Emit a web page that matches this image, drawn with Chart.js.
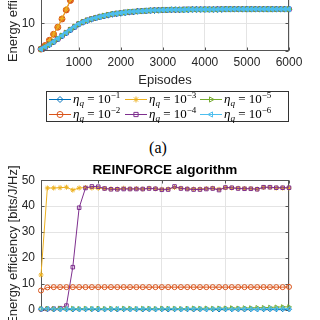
<!DOCTYPE html>
<html>
<head>
<meta charset="utf-8">
<script src="https://cdn.jsdelivr.net/npm/chart.js@4.4.1/dist/chart.umd.min.js"></script>
<style>
  html, body { margin: 0; padding: 0; background: #fff; }
  body { width: 320px; height: 320px; overflow: hidden; position: relative; font-family: "Liberation Sans", Arial, sans-serif; }
  #chartA { position: absolute; left: 0; top: -100px; }
  #chartB { position: absolute; left: 0; top: 150px; }
  #legend {
    position: absolute; left: 46px; top: 91px; width: 239px; height: 29px;
    border: 1px solid #333; background: #fff; padding-left: 2px;
    display: grid; grid-template-columns: 76px 75px auto; grid-template-rows: 14px 15px;
    grid-auto-flow: column;
    font-family: "Liberation Serif", "DejaVu Serif", serif; font-size: 13px; color: #000;
  }
  #legend .item { display: flex; align-items: center; white-space: nowrap; line-height: 14px; }
  #legend canvas { margin-right: 2px; }
  #legend sub { font-size: 9px; line-height: 0; vertical-align: -3px; }
  #legend sup { font-size: 9px; line-height: 0; vertical-align: 5px; }
  #caption { position: absolute; left: 0; width: 316px; top: 139px; line-height: 18px; text-align: center;
    font-family: "Liberation Serif", serif; font-size: 16px; color: #000; }
</style>
</head>
<body>
<canvas id="chartA" width="320" height="190"></canvas>
<div id="legend"></div>
<div id="caption">(a)</div>
<canvas id="chartB" width="320" height="200"></canvas>
<script>
// eta_q = 10^exp for each curve
const etaExp = [-1, -2, -3, -4, -5, -6];
const colors = ['#0072BD', '#D95319', '#EDB120', '#7E2F8E', '#77AC30', '#4DBEEE'];
const markers = ['rectRot', 'circle', 'star', 'rect', 'triangle', 'triangle'];
const markerRot = [0, 0, 0, 0, 90, -90];

// ---- (a) ----
const episodesA = [100, 200, 300, 400, 500, 600, 700, 800, 900, 1000,
  1100, 1200, 1300, 1400, 1500, 1600, 1700, 1800, 1900, 2000,
  2100, 2200, 2300, 2400, 2500, 2600, 2700, 2800, 2900, 3000,
  3100, 3200, 3300, 3400, 3500, 3600, 3700, 3800, 3900, 4000,
  4100, 4200, 4300, 4400, 4500, 4600, 4700, 4800, 4900, 5000,
  5100, 5200, 5300, 5400, 5500, 5600, 5700, 5800, 5900, 6000];
const eeA_1 = [0.6, 1.3, 2.2, 3.2, 4.3, 5.4, 6.5, 7.6, 8.7, 9.7,
  10.4, 11.0, 11.5, 12.0, 12.4, 12.7, 13.0, 13.3, 13.5, 13.7,
  13.9, 14.1, 14.2, 14.4, 14.5, 14.6, 14.7, 14.7, 14.8, 14.9,
  14.9, 15.0, 15.0, 15.0, 15.0, 15.0, 15.1, 15.1, 15.1, 15.1,
  15.1, 15.1, 15.1, 15.1, 15.2, 15.2, 15.2, 15.2, 15.2, 15.2,
  15.2, 15.2, 15.2, 15.2, 15.2, 15.2, 15.2, 15.2, 15.2, 15.2];
const eeA_2 = [0.6, 1.9, 3.8, 6.0, 8.6, 11.6, 14.9, 18.4, 22.0, 25.5,
  28.8, 31.8, 34.5, 36.8, 38.8, 40.5, 41.9, 43.0, 43.9, 44.6,
  45.1, 45.5, 45.8, 46.0, 46.2, 46.3, 46.4, 46.5, 46.5, 46.6,
  46.6, 46.6, 46.7, 46.7, 46.7, 46.7, 46.7, 46.8, 46.8, 46.8,
  46.8, 46.8, 46.8, 46.8, 46.8, 46.8, 46.8, 46.8, 46.8, 46.8,
  46.8, 46.8, 46.8, 46.8, 46.8, 46.8, 46.8, 46.8, 46.8, 46.8];
const eeA_3 = [0.6, 1.8, 3.7, 6.1, 8.7, 11.8, 15.2, 18.8, 22.4, 25.9,
  29.1, 32.0, 34.7, 37.0, 39.0, 40.6, 42.0, 43.1, 44.0, 44.6,
  45.1, 45.5, 45.8, 46.0, 46.2, 46.3, 46.4, 46.5, 46.5, 46.6,
  46.6, 46.6, 46.7, 46.7, 46.7, 46.7, 46.7, 46.8, 46.8, 46.8,
  46.8, 46.8, 46.8, 46.8, 46.8, 46.8, 46.8, 46.8, 46.8, 46.8,
  46.8, 46.8, 46.8, 46.8, 46.8, 46.8, 46.8, 46.8, 46.8, 46.8];
const eeA_4 = [0.6, 1.3, 2.3, 3.3, 4.3, 5.5, 6.6, 7.7, 8.7, 9.8,
  10.5, 11.1, 11.6, 12.0, 12.4, 12.8, 13.1, 13.3, 13.6, 13.8,
  14.0, 14.1, 14.3, 14.4, 14.5, 14.6, 14.7, 14.8, 14.8, 14.9,
  14.9, 15.0, 15.0, 15.0, 15.1, 15.1, 15.1, 15.1, 15.1, 15.1,
  15.1, 15.1, 15.2, 15.2, 15.2, 15.2, 15.2, 15.2, 15.2, 15.2,
  15.2, 15.2, 15.2, 15.2, 15.2, 15.2, 15.2, 15.2, 15.2, 15.2];
const eeA_5 = [0.6, 1.4, 2.3, 3.3, 4.4, 5.5, 6.6, 7.7, 8.8, 9.8,
  10.5, 11.1, 11.6, 12.0, 12.4, 12.8, 13.1, 13.4, 13.6, 13.8,
  14.0, 14.2, 14.3, 14.4, 14.5, 14.6, 14.7, 14.8, 14.8, 14.9,
  14.9, 15.0, 15.0, 15.0, 15.0, 15.1, 15.1, 15.1, 15.1, 15.1,
  15.1, 15.1, 15.1, 15.2, 15.2, 15.2, 15.2, 15.2, 15.2, 15.2,
  15.2, 15.2, 15.2, 15.2, 15.2, 15.2, 15.2, 15.2, 15.2, 15.2];
const eeA_6 = [0.6, 1.4, 2.3, 3.3, 4.4, 5.5, 6.6, 7.7, 8.8, 9.8,
  10.5, 11.1, 11.6, 12.0, 12.4, 12.8, 13.1, 13.4, 13.6, 13.8,
  14.0, 14.2, 14.3, 14.4, 14.5, 14.6, 14.7, 14.8, 14.8, 14.9,
  14.9, 15.0, 15.0, 15.0, 15.0, 15.1, 15.1, 15.1, 15.1, 15.1,
  15.1, 15.1, 15.1, 15.2, 15.2, 15.2, 15.2, 15.2, 15.2, 15.2,
  15.2, 15.2, 15.2, 15.2, 15.2, 15.2, 15.2, 15.2, 15.2, 15.2];
const xTicksA = [1000, 2000, 3000, 4000, 5000, 6000];
const yTicksA = [0, 10, 20, 30, 40, 50];

// ---- REINFORCE ----
const episodesB = [100, 200, 300, 400, 500, 600, 700, 800, 900, 1000,
  1100, 1200, 1300, 1400, 1500, 1600, 1700, 1800, 1900, 2000,
  2100, 2200, 2300, 2400, 2500, 2600, 2700, 2800, 2900, 3000,
  3100, 3200, 3300, 3400, 3500, 3600, 3700, 3800, 3900, 4000];
const eeB_1 = [0.3, 0.3, 0.2, 0.3, 0.3, 0.2, 0.3, 0.3, 0.3, 0.2,
  0.3, 0.3, 0.2, 0.3, 0.3, 0.3, 0.2, 0.3, 0.3, 0.3,
  0.2, 0.3, 0.3, 0.3, 0.2, 0.3, 0.3, 0.3, 0.2, 0.3,
  0.3, 0.3, 0.2, 0.3, 0.3, 0.3, 0.3, 0.3, 0.3, 0.3];
const eeB_2 = [7.5, 8.7, 8.8, 8.8, 8.8, 8.8, 8.8, 8.8, 8.8, 8.8,
  8.8, 8.8, 8.8, 8.8, 8.8, 8.8, 8.8, 8.8, 8.8, 8.8,
  8.8, 8.8, 8.8, 8.8, 8.8, 8.8, 8.8, 8.8, 8.8, 8.8,
  8.8, 8.8, 8.8, 8.8, 8.8, 8.8, 8.8, 8.8, 8.8, 8.9];
const eeB_3 = [13.5, 47.0, 47.0, 47.1, 47.3, 46.2, 47.0, 47.2, 47.0, 46.9,
  46.8, 46.7, 46.6, 46.9, 46.7, 46.8, 46.6, 46.9, 46.7, 46.5,
  46.6, 47.2, 46.9, 46.7, 46.6, 46.6, 46.8, 46.9, 46.5, 47.1,
  47.0, 46.9, 46.8, 46.8, 46.6, 47.2, 47.2, 47.0, 47.0, 47.0];
const eeB_4 = [0.3, 0.4, 0.5, 0.7, 1.7, 16.5, 39.4, 47.0, 47.6, 47.5,
  46.8, 46.5, 46.5, 46.6, 46.6, 46.6, 46.6, 46.8, 46.7, 46.3,
  46.4, 47.6, 46.8, 46.6, 46.4, 46.4, 46.6, 46.8, 46.2, 47.2,
  47.1, 46.8, 46.7, 46.7, 46.5, 47.3, 47.3, 47.1, 47.1, 47.1];
const eeB_5 = [0.5, 0.6, 0.5, 0.6, 0.5, 0.6, 0.5, 0.6, 0.5, 0.6,
  0.5, 0.6, 0.5, 0.6, 0.6, 0.5, 0.6, 0.6, 0.5, 0.6,
  0.6, 0.6, 0.5, 0.6, 0.7, 0.6, 0.7, 0.6, 0.7, 0.7,
  0.8, 0.7, 0.8, 0.8, 0.9, 0.9, 1.0, 1.1, 1.2, 1.2];
const eeB_6 = [0.4, 0.5, 0.4, 0.3, 0.4, 0.5, 0.3, 0.4, 0.5, 0.4,
  0.3, 0.4, 0.5, 0.4, 0.3, 0.4, 0.5, 0.4, 0.3, 0.4,
  0.5, 0.4, 0.3, 0.4, 0.5, 0.4, 0.3, 0.4, 0.5, 0.4,
  0.3, 0.4, 0.5, 0.4, 0.3, 0.4, 0.5, 0.4, 0.5, 0.4];
const xTicksB = [1000, 2000, 3000, 4000];
const yTicksB = [0, 10, 20, 30, 40, 50];

Chart.defaults.font.family = '"Liberation Sans", Arial, sans-serif';
Chart.defaults.color = '#262626';

const axisColor = '#555';
const gridColor = '#e4e4e4';

// MATLAB-like box with inward ticks
const axisBox = {
  id: 'axisBox',
  beforeDatasetsDraw(chart) {
    const { ctx, chartArea: a, scales } = chart;
    const l = Math.round(a.left) + 0.5, r = Math.round(a.right) - 0.5;
    const t = Math.round(a.top) + 0.5, b = Math.round(a.bottom) - 0.5;
    ctx.save();
    ctx.strokeStyle = axisColor;
    ctx.lineWidth = 1;
    ctx.strokeRect(l, t, r - l, b - t);
    ctx.beginPath();
    scales.x.ticks.forEach(tk => {
      const px = Math.round(scales.x.getPixelForValue(tk.value)) + 0.5;
      ctx.moveTo(px, b); ctx.lineTo(px, b - 3);
      ctx.moveTo(px, t); ctx.lineTo(px, t + 3);
    });
    scales.y.ticks.forEach(tk => {
      const py = Math.round(scales.y.getPixelForValue(tk.value)) + 0.5;
      ctx.moveTo(l, py); ctx.lineTo(l + 3, py);
      ctx.moveTo(r, py); ctx.lineTo(r - 3, py);
    });
    ctx.stroke();
    ctx.restore();
  }
};

function makeDatasets(episodes, series, radius, filled) {
  return series.map((vals, i) => ({
    label: 'eta_q = 1e' + etaExp[i],
    data: vals.map((v, k) => ({ x: episodes[k], y: v })),
    borderColor: colors[i],
    backgroundColor: filled ? colors[i] : 'rgba(0,0,0,0)',
    borderWidth: 1,
    pointStyle: markers[i],
    pointRotation: markerRot[i],
    pointRadius: radius,
    pointBorderWidth: 1,
    order: -i,
    clip: false
  }));
}

function makeScales(xMin, xMax, xTicks, yTicks, xHeight, xPad) {
  return {
    x: {
      type: 'linear', min: xMin, max: xMax,
      afterBuildTicks: s => { s.ticks = xTicks.map(v => ({ value: v })); },
      afterFit: s => { s.height = xHeight; },
      grid: { color: gridColor, drawTicks: false },
      border: { display: false },
      ticks: { padding: xPad, maxRotation: 0, font: { size: 12 }, callback: v => String(v) },
      title: { display: true, text: 'Episodes', font: { size: 13 }, padding: { top: 0, bottom: 2 } }
    },
    y: {
      min: 0, max: 50,
      afterBuildTicks: s => { s.ticks = yTicks.map(v => ({ value: v })); },
      afterFit: s => { s.width = 41; },
      grid: { color: gridColor, drawTicks: false },
      border: { display: false },
      ticks: { padding: 6, font: { size: 12 }, callback: v => String(v) },
      title: { display: true, text: 'Energy efficiency [bits/J/Hz]', font: { size: 13 }, padding: { top: 6, bottom: 0 } }
    }
  };
}

new Chart(document.getElementById('chartA').getContext('2d'), {
  type: 'line',
  data: { datasets: makeDatasets(episodesA, [eeA_1, eeA_2, eeA_3, eeA_4, eeA_5, eeA_6], 3, true) },
  options: {
    responsive: false, animation: false, devicePixelRatio: 1,
    layout: { padding: { top: 14, right: 31, left: 0, bottom: 0 } },
    plugins: { legend: { display: false }, tooltip: { enabled: false } },
    scales: makeScales(100, 6000, xTicksA, yTicksA, 39.3, 5)
  },
  plugins: [axisBox]
});

new Chart(document.getElementById('chartB').getContext('2d'), {
  type: 'line',
  data: { datasets: makeDatasets(episodesB, [eeB_1, eeB_2, eeB_3, eeB_4, eeB_5, eeB_6], 2.5, false) },
  options: {
    responsive: false, animation: false, devicePixelRatio: 1,
    layout: { padding: { top: 0, right: 31, left: 0, bottom: 0 } },
    plugins: {
      legend: { display: false }, tooltip: { enabled: false },
      title: {
        display: true, text: 'REINFORCE algorithm', fullSize: false, color: '#000',
        font: { size: 13.5, weight: 'bold' }, padding: { top: 12, bottom: 2 }
      }
    },
    scales: makeScales(100, 4000, xTicksB, yTicksB, 40, 14)
  },
  plugins: [axisBox]
});

// legend (column-major, like the figure)
const legendEl = document.getElementById('legend');
etaExp.forEach((e, i) => {
  const item = document.createElement('div');
  item.className = 'item';
  const c = document.createElement('canvas');
  c.width = 22; c.height = 14;
  const g = c.getContext('2d');
  g.strokeStyle = colors[i];
  g.lineWidth = 1;
  g.beginPath(); g.moveTo(0, 7.5); g.lineTo(22, 7.5); g.stroke();
  g.fillStyle = 'rgba(0,0,0,0)';
  Chart.helpers.drawPoint(g, { pointStyle: markers[i], radius: 3, rotation: markerRot[i], borderWidth: 1 }, 11, 7.5);
  const txt = document.createElement('span');
  txt.innerHTML = '<i>\u03B7</i><sub><i>q</i></sub> = 10<sup>\u2212' + (-e) + '</sup>';
  item.appendChild(c);
  item.appendChild(txt);
  legendEl.appendChild(item);
});
</script>
</body>
</html>
